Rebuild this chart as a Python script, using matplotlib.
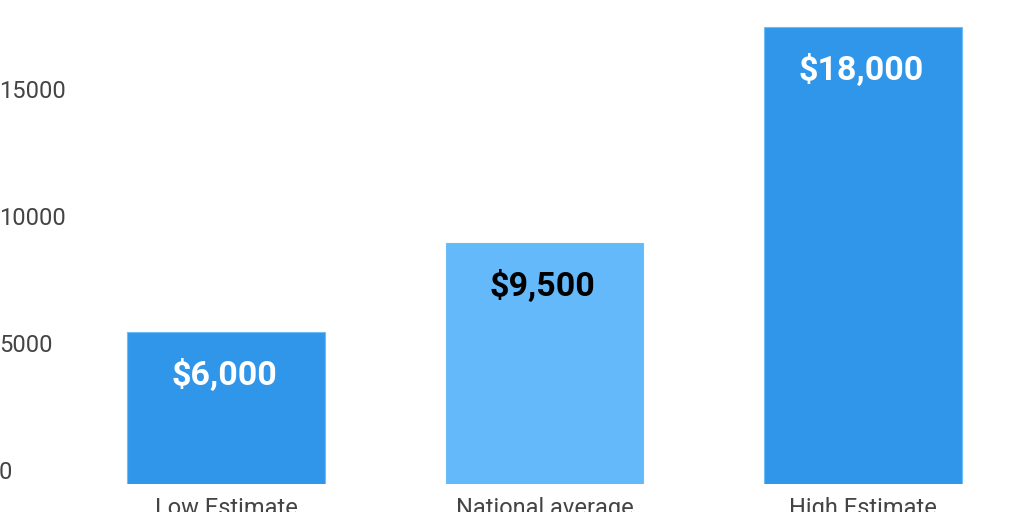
import matplotlib
matplotlib.use("Agg")
import matplotlib.pyplot as plt
import matplotlib.transforms as mtransforms

categories = ["Low Estimate", "National average", "High Estimate"]
values = [6000, 9500, 18000]
value_labels = ["$6,000", "$9,500", "$18,000"]
bar_colors = ["#3096EA", "#63B9F9", "#3096EA"]
label_colors = ["white", "black", "white"]
yticks = [0, 5000, 10000, 15000]

plt.rcParams["font.family"] = ["Roboto", "DejaVu Sans"]

dpi = 100
fig = plt.figure(figsize=(10.24, 5.12), dpi=dpi)
ax = fig.add_axes([67 / 1024, 28 / 512, 955 / 1024, 484 / 512])

x = list(range(len(categories)))
ax.bar(x, values, width=0.62, color=bar_colors, edgecolor="#6DBDF8", linewidth=0.8)

ax.set_xlim(-0.5, 2.5)
ax.set_ylim(0, 19050)

for s in ax.spines.values():
    s.set_visible(False)

ax.set_xticks(x)
ax.set_xticklabels(categories, fontsize=17, color="#444444")
ax.tick_params(axis="x", length=0, pad=9.5)

ax.set_yticks(yticks)
ax.set_yticklabels([str(v) for v in yticks], fontsize=17, color="#444444")
ax.tick_params(axis="y", length=0, pad=0)
offset = mtransforms.ScaledTranslation(-68 / dpi, 0, fig.dpi_scale_trans)
for lab in ax.get_yticklabels():
    lab.set_horizontalalignment("left")
    lab.set_verticalalignment("bottom")
    lab.set_transform(lab.get_transform() + offset)

for xi, v, lbl, c in zip(x, values, value_labels, label_colors):
    ax.annotate(lbl, xy=(xi, v), xytext=(-2 * 72 / dpi, -53 * 72 / dpi), textcoords="offset points",
                ha="center", va="baseline", fontsize=24.5, fontweight="bold", color=c)

fig.savefig("out.png", dpi=dpi)
